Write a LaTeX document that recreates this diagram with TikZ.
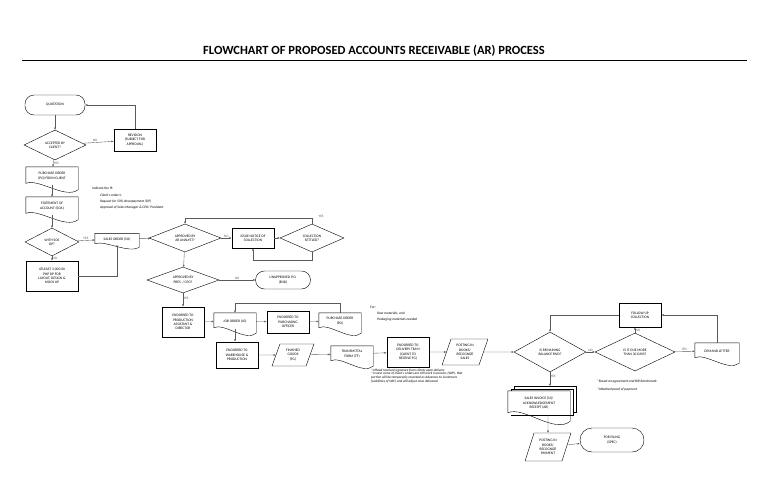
\documentclass[tikz,border=0pt]{standalone}
\usepackage{fontspec}
\setmainfont{Carlito}
\usetikzlibrary{shapes.geometric,arrows.meta}
\tikzset{
 base/.style={font=\fontsize{3.6}{4.2}\selectfont,align=center,inner sep=0.5pt},
 proc/.style={base,draw,line width=0.9pt,minimum width=42pt,minimum height=#1},
 proc/.default=22pt,
 dec/.style={base,draw,diamond,aspect=2.3,line width=0.4pt,inner sep=0pt},
 term/.style={base,draw,rounded corners=9pt,line width=0.4pt},
 para/.style={base,draw,trapezium,trapezium left angle=70,trapezium right angle=110,trapezium stretches=true,line width=0.4pt},
 lbl/.style={font=\fontsize{3.4}{4}\selectfont,inner sep=0.5pt},
 note/.style={font=\fontsize{3.5}{4.4}\selectfont\itshape,align=left,anchor=west,inner sep=0pt},
 ar/.style={-{Latex[length=2.2pt,width=2pt]},line width=0.35pt,gray!70!black},
}
\newcommand{\docnode}[6]{%
 \node[base,minimum width=#4pt,minimum height=#5pt] (#1) at (#2,#3) {#6};
 \draw[line width=0.4pt] (#1.north west) -- (#1.north east) -- ([yshift=-0.25*#5pt]#1.south east)
  .. controls ([xshift=-0.25*#4pt,yshift=-0.8*#5pt]#1.south east) and ([xshift=0.25*#4pt,yshift=0.4*#5pt]#1.south west) .. ([yshift=0.1*#5pt]#1.south west) -- cycle;}
\begin{document}
\begin{tikzpicture}[x=1pt,y=-1pt]
\useasboundingbox (0,0) rectangle (768,503);
\node[font=\bfseries\fontsize{12.5}{14}\selectfont] (title) at (374,51) {FLOWCHART OF PROPOSED ACCOUNTS RECEIVABLE (AR) PROCESS};
\draw[line width=0.8pt] (22,60) -- (747,60);

\node[term,minimum width=60pt,minimum height=20pt] (quot) at (55,105) {QUOTATION};
\node[dec,minimum width=62pt,minimum height=30pt] (acc) at (55,145) {ACCEPTED BY\\CLIENT?};
\node[proc] (rev) at (135,140) {REVISION\\(SUBJECT FOR\\APPROVAL)};
\docnode{po}{52}{176}{52}{18}{PURCHASE ORDER\\(PO) FROM CLIENT}
\docnode{soa}{52}{206}{52}{18}{STATEMENT OF\\ACCOUNT (SOA)}
\node[dec,minimum width=54pt,minimum height=28pt] (sos) at (52,242) {WITH SOS\\DP?};
\node[proc=30pt,minimum width=52pt] (atl) at (52,276) {ATLEAST 3,000.00\\PHP DP FOR\\LAYOUT, DESIGN \&\\MOCK UP};
\node[note] (n1) at (92,188) {Indicate the ff.:};
\node[note] (n2) at (100,195) {Client's order/s};
\node[note] (n3) at (100,202) {Request for 50\% downpayment (DP)};
\node[note] (n4) at (100,208) {Approval of Sales Manager \& CEO/ President};
\docnode{so}{117}{239}{44}{11}{SALES ORDER (SO)}
\node[dec,minimum width=72pt,minimum height=28pt] (ar) at (185,238) {APPROVED BY\\AR ANALYST?};
\node[proc=20pt] (iss) at (253,238) {ISSUE NOTICE OF\\COLLECTION};
\node[dec,minimum width=64pt,minimum height=28pt] (col) at (312,238) {COLLECTION\\SETTLED?};
\node[dec,minimum width=72pt,minimum height=26pt] (pres) at (183,280) {APPROVED BY\\PRES. / CEO?};
\node[term,minimum width=55pt,minimum height=18pt] (unap) at (283,280) {UNAPPROVED P.O.\\(END)};
\node[proc=30pt] (prod) at (183,322) {ENDORSED TO\\PRODUCTION\\ASSISTANT \&\\DIRECTOR};
\docnode{jo}{235}{321}{42}{16}{JOB ORDER (JO)}
\node[proc] (pur) at (288,322) {ENDORSED TO\\PURCHASING\\OFFICER};
\docnode{ppo}{340}{321}{42}{16}{PURCHASE ORDER\\(PO)}
\node[note] (f1) at (370,307) {For:};
\node[note] (f2) at (377,314) {Raw materials, and};
\node[note] (f3) at (377,320) {Packaging materials needed};
\node[proc=26pt] (wh) at (237,355) {ENDORSED TO\\WAREHOUSE \&\\PRODUCTION};
\node[para,minimum width=42pt,minimum height=22pt] (fg) at (293,355) {FINISHED\\GOODS\\(FG)};
\docnode{tf}{352}{354}{42}{16}{TRANSMITTAL\\FORM (TF)}
\node[proc=30pt] (del) at (408,352) {ENDORSED TO\\DELIVERY TEAM\\(CLIENT TO\\RECEIVE FG)};
\node[para,minimum width=46pt,minimum height=26pt] (pss) at (465,352) {POSTING IN\\BOOKS/\\RECOGNIZE\\SALES};
\node[note,font=\fontsize{3.4}{3.9}\selectfont\itshape] (dn) at (371,376) {*Affixed received signature from clients upon delivery\\*In case some of client's orders are still work in process (WIP), that\\portion will be temporarily recorded as Advances to Customers\\(Liabilities of NRC) and will adjust once delivered.};
\node[dec,minimum width=72pt,minimum height=40pt] (rem) at (550,352) {IS REMAINING\\BALANCE PAID?};
\node[dec,minimum width=80pt,minimum height=38pt] (due) at (635,352) {IS IT DUE MORE\\THAN 30 DAYS?};
\node[proc=24pt] (fol) at (640,315) {FOLLOW UP\\COLLECTION};
\docnode{dem}{717}{351}{44}{16}{DEMAND LETTER}
\node[note] (b1) at (597,382) {*Based on agreement and BIR Benchmark};
\node[note] (b2) at (597,390) {*Attached proof of payment};
\draw[line width=0.4pt,fill=white] (514,386) rectangle (576,412);
\draw[line width=0.4pt,fill=white] (511,389) rectangle (573,415);
\node[fill=white,minimum width=62pt,minimum height=24pt,inner sep=0pt] (invbg) at (539,403) {};
\docnode{inv}{539}{403}{62}{24}{SALES INVOICE (SI)/\\ACKNOWLEDGEMENT\\RECEIPT (AR)}
\node[para,minimum width=46pt,minimum height=28pt] (pay) at (548,447) {POSTING IN\\BOOKS/\\RECOGNIZE\\PAYMENT};
\node[term,minimum width=64pt,minimum height=24pt,rounded corners=12pt] (fil) at (612,440) {FOR FILING\\(SPEC)};

% connectors
\draw[ar] (quot) -- (acc);
\draw[ar] (acc) -- node[lbl,above,pos=0.4]{NO} (rev);
\draw[ar] (rev.north) |- (quot.east);
\draw[ar] (acc) -- node[lbl,right,pos=0.5]{YES} (po);
\draw[ar] (po) -- (soa);
\draw[ar] (soa) -- (sos);
\draw[ar] (sos) -- node[lbl,above]{YES} (so);
\draw[ar] (sos) -- node[lbl,right]{NO} (atl);
\draw[ar] (atl.east) -| (so.south);
\draw[ar] (so) -- (ar);
\draw[ar] (ar) -- node[lbl,above]{NO} (iss);
\draw[ar] (iss) -- (col);
\draw[ar] (col.north) -- ++(0,-6) -| node[lbl,pos=0,above right,xshift=6pt]{YES} (ar.north);
\draw[ar] (col.south) -- ++(0,8) -| (iss.south);
\draw[ar] (ar) -- (pres);
\draw[ar] (pres) -- node[lbl,above]{NO} (unap);
\draw[ar] (pres) -- node[lbl,right,pos=0.4]{YES} (prod);
\draw[ar] (prod) -- (jo);
\draw[ar] (jo) -- (pur);
\draw[ar] (pur) -- (ppo);
\draw[ar] (ppo.north) -- ++(0,-10) -| (jo.north);
\draw[ar] (jo.south) -- (jo.south |- wh.north);
\draw[ar] (wh) -- (fg);
\draw[ar] (fg) -- (tf);
\draw[ar] (tf) -- (del);
\draw[ar] (del) -- (pss);
\draw[ar] (pss) -- (rem);
\draw[ar] (rem) -- node[lbl,above]{NO} (due);
\draw[ar] (due) -- node[lbl,above]{YES} (dem);
\draw[ar] (dem.north) |- (fol.east);
\draw[ar] (due.north) -- node[lbl,right]{NO} (due.north |- fol.south);
\draw[ar] (fol.west) -| (rem.north);
\draw[ar] (rem.south) -- node[lbl,right,pos=0.3]{YES} (rem.south |- 0,386);
\draw[ar] (inv.south -| 548,0) -- (pay.north);
\draw[ar] (pay) -- (fil);
\end{tikzpicture}
\end{document}
